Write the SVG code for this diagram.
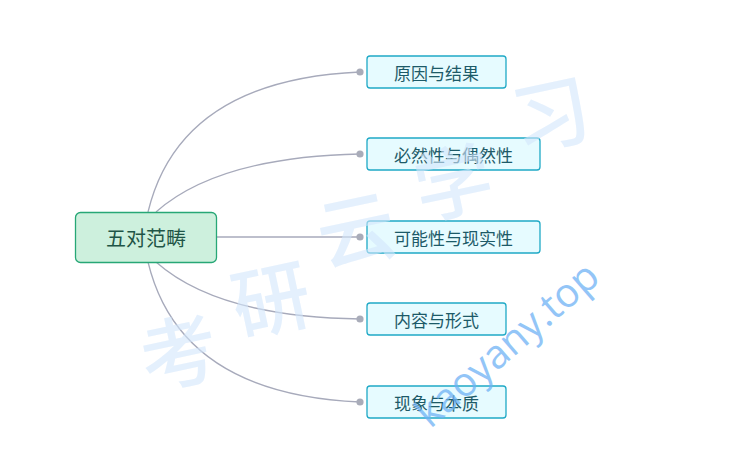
<svg xmlns="http://www.w3.org/2000/svg" width="732" height="462" viewBox="0 0 732 462">
<defs>
<style>
.conn{fill:none;stroke:#a7aabb;stroke-width:1.3}
.dot{fill:#a9acb9}
.root rect{fill:#cdf0dd;stroke:#27a776;stroke-width:1.3}
.root text{font-family:"Noto Sans CJK SC",sans-serif;font-size:20px;fill:#1f5546;text-anchor:middle;dominant-baseline:central}
.child rect{fill:#e6fbff;stroke:#1fa9c6;stroke-width:1.3}
.child text{font-family:"Noto Sans CJK SC",sans-serif;font-size:17px;fill:#1d5a68;text-anchor:middle;dominant-baseline:central}
.wm{font-family:"Noto Sans CJK SC",sans-serif;font-size:78px;font-weight:500;fill:#d3e7fc;opacity:0.6;text-anchor:middle;dominant-baseline:central}
.wm2{font-family:"Open Sans",sans-serif;font-size:40px;fill:#6fb2f5;opacity:0.75;text-anchor:middle;dominant-baseline:central}
</style>
</defs>
<rect width="732" height="462" fill="#ffffff"/>
<g id="connectors">
<path class="conn" d="M148,212 Q180,80 360,72"/>
<path class="conn" d="M156,212 Q218,157 360,154"/>
<path class="conn" d="M216,237 L360,237"/>
<path class="conn" d="M156,262 Q218,317 360,319"/>
<path class="conn" d="M148,262 Q180,394 360,402"/>
<circle class="dot" cx="360" cy="72" r="3.6"/>
<circle class="dot" cx="360" cy="154" r="3.6"/>
<circle class="dot" cx="360" cy="237" r="3.6"/>
<circle class="dot" cx="360" cy="319" r="3.6"/>
<circle class="dot" cx="360" cy="402" r="3.6"/>
</g>
<g id="root" class="root">
<rect x="75.5" y="212.5" width="141" height="50" rx="5"/>
<text x="146" y="237">五对范畴</text>
</g>
<g id="n1" class="child">
<rect x="367" y="56" width="139" height="32" rx="3"/>
<text x="436.5" y="72">原因与结果</text>
</g>
<g id="n2" class="child">
<rect x="367" y="138" width="173" height="32" rx="3"/>
<text x="453.5" y="154">必然性与偶然性</text>
</g>
<g id="n3" class="child">
<rect x="367" y="221" width="173" height="32" rx="3"/>
<text x="453.5" y="237">可能性与现实性</text>
</g>
<g id="n4" class="child">
<rect x="367" y="303" width="139" height="32" rx="3"/>
<text x="436.5" y="319">内容与形式</text>
</g>
<g id="n5" class="child">
<rect x="367" y="386" width="139" height="32" rx="3"/>
<text x="436.5" y="402">现象与本质</text>
</g>
<g id="watermark">
<text class="wm" x="178" y="348" transform="rotate(-12 178 348)">考</text>
<text class="wm" x="270" y="295" transform="rotate(-12 270 295)">研</text>
<text class="wm" x="355" y="225" transform="rotate(-12 355 225)">云</text>
<text class="wm" x="452" y="178" transform="rotate(-12 452 178)">学</text>
<text class="wm" x="550" y="110" transform="rotate(-12 550 110)">习</text>
<text class="wm2" x="506" y="343" transform="rotate(-41 506 343)">kaoyany.top</text>
</g>
</svg>
